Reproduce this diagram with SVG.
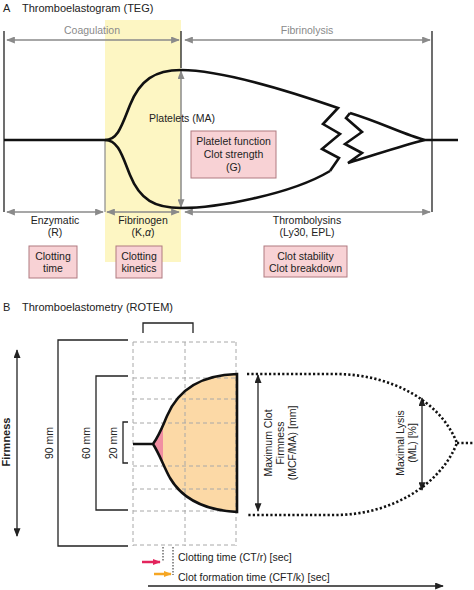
<svg xmlns="http://www.w3.org/2000/svg" width="474" height="590" viewBox="0 0 474 590">
<defs>
<style>
text{font-family:"Liberation Sans",Arial,sans-serif;fill:#222;font-size:10.5px}
.t{font-size:11px}
.c{text-anchor:middle}
.g{fill:#8a8a8a;text-anchor:middle}
.ga{stroke:#8a8a8a;stroke-width:1.5;fill:none;marker-start:url(#gh);marker-end:url(#gh)}
.ba{stroke:#222;stroke-width:1.3;fill:none;marker-start:url(#bh);marker-end:url(#bh)}
.blk{stroke:#222;stroke-width:1.3;fill:none}
.curve{stroke:#111;stroke-width:2.6;fill:none;stroke-linejoin:miter}
.box{fill:#f8d2d5;stroke:#b07a80;stroke-width:1}
.dash{stroke:#a8a8a8;stroke-width:1;stroke-dasharray:4 3;fill:none}
.dot{stroke:#111;stroke-width:2.6;stroke-dasharray:2.2 2.2;fill:none}
.fine{stroke:#222;stroke-width:1;stroke-dasharray:1.5 1.5;fill:none}
</style>
<marker id="gh" viewBox="0 0 10 8" refX="9" refY="4" markerWidth="9" markerHeight="7" markerUnits="userSpaceOnUse" orient="auto-start-reverse"><path d="M0,0 L10,4 L0,8 z" fill="#8a8a8a"/></marker>
<marker id="bh" viewBox="0 0 10 8" refX="9" refY="4" markerWidth="9" markerHeight="7" markerUnits="userSpaceOnUse" orient="auto-start-reverse"><path d="M0,0 L10,4 L0,8 z" fill="#222"/></marker>
<marker id="rh" viewBox="0 0 10 8" refX="9" refY="4" markerWidth="8" markerHeight="8" markerUnits="userSpaceOnUse" orient="auto"><path d="M0,0 L10,4 L0,8 z" fill="#e3245c"/></marker>
<marker id="oh" viewBox="0 0 10 8" refX="9" refY="4" markerWidth="8" markerHeight="8" markerUnits="userSpaceOnUse" orient="auto"><path d="M0,0 L10,4 L0,8 z" fill="#f5a623"/></marker>
<clipPath id="pinkclip"><rect x="140" y="380" width="23" height="130"/></clipPath>
</defs>

<!-- Panel A -->
<g id="panelA">
  <rect id="highlight" x="105" y="20" width="76" height="242" fill="#fdf6c3"/>
  <text x="3" y="12" class="t">A</text>
  <text x="22" y="12" class="t">Thromboelastogram (TEG)</text>
</g>

<g id="connectors">
  <!-- frame lines A -->
  <path class="blk" d="M4,31 V212 M432,31 V212 M181,31 V68"/>
  <path d="M105,140 V212" stroke="#8a8a8a" stroke-width="1.2" fill="none"/>
  <!-- gray arrows -->
  <path class="ga" d="M7,40 H179"/>
  <path class="ga" d="M185,40 H430"/>
  <path class="ga" d="M7,212 H103"/>
  <path class="ga" d="M107,212 H179"/>
  <path class="ga" d="M185,212 H430"/>
  <path class="ga" d="M181,71 V207"/>
  <!-- TEG trace -->
  <path class="curve" d="M4,140 H105 C118,140 122,125 130,105 C140,80 155,70 181,70 C220,70 280,88 338,108 L323,124 L340,134 L322,149 L339,158 L330,171"/>
  <path class="curve" d="M105,140 C118,140 122,155 130,175 C140,200 155,208 181,208 C215,208 290,195 330,171"/>
  <path class="curve" d="M350,113 L346,118 L362,132 L345,144 L362,153 L348,163 C375,155 400,146 425,140 M350,113 C380,122 405,135 425,140 H458"/>

  <!-- Panel B brackets -->
  <path class="blk" d="M143,333 V323 H193 V333"/>
  <path class="blk" d="M128,340 H58 V546 H128"/>
  <path class="blk" d="M128,376 H96 V510 H128"/>
  <path class="blk" d="M128,422 H123 V463 H128"/>
  <path class="ba" d="M17,350 V536"/>
  <path class="ba" d="M258,375 V511"/>
  <path class="ba" d="M422,398 V490"/>
  <!-- time arrows -->
  <path class="fine" d="M163,547 V562 M173,547 V575"/>
  <path d="M142,562 H160" stroke="#e3245c" stroke-width="2.5" marker-end="url(#rh)"/>
  <path d="M154,574 H171" stroke="#f5a623" stroke-width="2.5" marker-end="url(#oh)"/>
  <path d="M148,586 H443" stroke="#222" stroke-width="1.3" marker-end="url(#bh)"/>
</g>

<g id="enzymatic">
  <text x="55" y="224" class="c">Enzymatic</text>
  <text x="55" y="236" class="c">(R)</text>
  <rect class="box" x="29" y="246" width="48" height="32"/>
  <text x="53" y="260" class="c">Clotting</text>
  <text x="53" y="272" class="c">time</text>
</g>
<g id="fibrinogen">
  <text x="143" y="224" class="c">Fibrinogen</text>
  <text x="143" y="236" class="c">(K,<tspan font-style="italic">α</tspan>)</text>
  <rect class="box" x="116" y="246" width="46" height="32"/>
  <text x="139" y="260" class="c">Clotting</text>
  <text x="139" y="272" class="c">kinetics</text>
</g>
<g id="thrombolysins">
  <text x="307" y="224" class="c">Thrombolysins</text>
  <text x="307" y="236" class="c">(Ly30, EPL)</text>
  <rect class="box" x="264" y="246" width="83" height="31"/>
  <text x="305.5" y="260" class="c">Clot stability</text>
  <text x="305.5" y="272" class="c">Clot breakdown</text>
</g>
<g id="platelets">
  <text x="182" y="122" class="c">Platelets (MA)</text>
  <rect class="box" x="191" y="131" width="85" height="47"/>
  <text x="233.5" y="145" class="c">Platelet function</text>
  <text x="233.5" y="158" class="c">Clot strength</text>
  <text x="233.5" y="171" class="c">(G)</text>
</g>
<g id="phases">
  <text x="92" y="34" class="g">Coagulation</text>
  <text x="307" y="34" class="g">Fibrinolysis</text>
</g>

<!-- Panel B -->
<g id="panelB">
  <text x="3" y="311" class="t">B</text>
  <text x="22" y="311" class="t">Thromboelastometry (ROTEM)</text>
</g>

<g id="rotem-trace">
  <path id="clotshape" d="M153,444 C160,434 163,425 167,416 C178,390 200,375 237,374 V512 C200,510 180,495 170,478 C163,465 160,455 153,444 Z" fill="#fcd9a6"/>
  <path d="M153,444 C160,434 163,425 167,416 C178,390 200,375 237,374 V512 C200,510 180,495 170,478 C163,465 160,455 153,444 Z" fill="#f18fa2" clip-path="url(#pinkclip)"/>
  <g id="grid">
    <path class="dash" d="M133,342 V546 M185,342 V546 M236,342 V546"/>
    <path class="dash" d="M133,342 H236 M133,378 H236 M133,399 H236 M133,423 H236 M133,466 H236 M133,489 H236 M133,511 H236 M133,545 H236"/>
  </g>
  <path class="curve" d="M133,444 H153 C160,434 163,425 167,416 C178,390 200,375 237,374 V512 C200,510 180,495 170,478 C163,465 160,455 153,444"/>
  <path class="dot" d="M247,374 H335 C390,374 440,400 457,443 C440,486 390,515 335,515 H247 M457,443 H474"/>
</g>

<g id="firmness">
  <text transform="translate(10,442) rotate(-90)" class="c" font-weight="bold" style="font-size:11px">Firmness</text>
</g>
<g id="mm90"><text transform="translate(53,443) rotate(-90)" class="c">90 mm</text></g>
<g id="mm60"><text transform="translate(90,443) rotate(-90)" class="c">60 mm</text></g>
<g id="mm20"><text transform="translate(117,443) rotate(-90)" class="c">20 mm</text></g>
<g id="mcf">
  <text transform="translate(272,443) rotate(-90)" class="c">Maximum Clot</text>
  <text transform="translate(284,443) rotate(-90)" class="c">Firmness</text>
  <text transform="translate(296,443) rotate(-90)" class="c">(MCF/MA) [mm]</text>
</g>
<g id="ml">
  <text transform="translate(404,443) rotate(-90)" class="c">Maximal Lysis</text>
  <text transform="translate(416,443) rotate(-90)" class="c">(ML) [%]</text>
</g>
<g id="ct"><text x="178" y="561">Clotting time (CT/r) [sec]</text></g>
<g id="cft"><text x="178" y="581">Clot formation time (CFT/k) [sec]</text></g>
</svg>
